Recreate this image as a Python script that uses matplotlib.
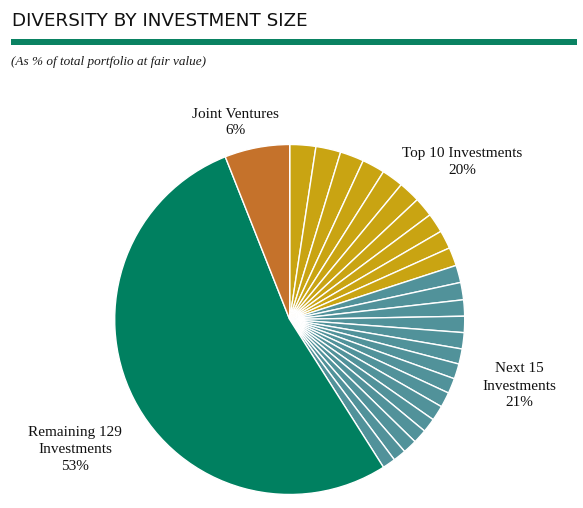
import matplotlib
matplotlib.use("Agg")
import matplotlib.pyplot as plt

# slice values (% of total portfolio at fair value)
top10 = [2.4, 2.3, 2.2, 2.1, 2.0, 2.0, 1.8, 1.8, 1.7, 1.7]
next15 = [1.6, 1.6, 1.5, 1.5, 1.5, 1.4, 1.4, 1.4, 1.4, 1.4, 1.3, 1.3, 1.3, 1.2, 1.2]
remaining = [53]
joint_ventures = [6]

group_labels = ["Top 10 Investments\n20%", "Next 15\nInvestments\n21%",
                "Remaining 129\nInvestments\n53%", "Joint Ventures\n6%"]

title = "DIVERSITY BY INVESTMENT SIZE"
subtitle = "(As % of total portfolio at fair value)"

gold = "#C9A412"
teal = "#51929A"
green = "#008060"
orange = "#C5722B"

W, H = 583, 508
fig = plt.figure(figsize=(W / 100, H / 100), dpi=100)


def px(x, y):
    # pixel coords (top-left origin) to figure fraction
    return x / W, 1 - y / H


values = top10 + next15 + remaining + joint_ventures
colors = [gold] * len(top10) + [teal] * len(next15) + [green] * len(remaining) + [orange] * len(joint_ventures)

cx, cy, r = 289.7, 319.5, 175
ax = fig.add_axes([(cx - r) / W, (H - cy - r) / H, 2 * r / W, 2 * r / H])
ax.pie(values, colors=colors, startangle=90, counterclock=False, radius=1,
       wedgeprops=dict(edgecolor="white", linewidth=1.0))
ax.set_xlim(-1, 1)
ax.set_ylim(-1, 1)
ax.set_aspect("equal")
ax.axis("off")

# header
fig.text(*px(12, 21.5), title, fontsize=13.2, family="DejaVu Sans", color="#111111",
         va="center", ha="left")
fig.add_artist(plt.Rectangle(px(11, 45), (577 - 11) / W, 6 / H, color="#0A8262",
                             transform=fig.transFigure, lw=0))
fig.text(*px(11, 62), subtitle, fontsize=9.5, family="Liberation Serif", style="italic",
         color="#1a1a1a", va="center", ha="left")

# group labels
label_pos = [(462, 162.5), (519, 386), (75, 449.5), (235, 122.5)]
for lab, (x, y) in zip(group_labels, label_pos):
    fig.text(*px(x, y), lab, fontsize=11, family="Liberation Serif", color="#111111",
             ha="center", va="center", linespacing=1.4)

fig.savefig("out.png", dpi=100)
